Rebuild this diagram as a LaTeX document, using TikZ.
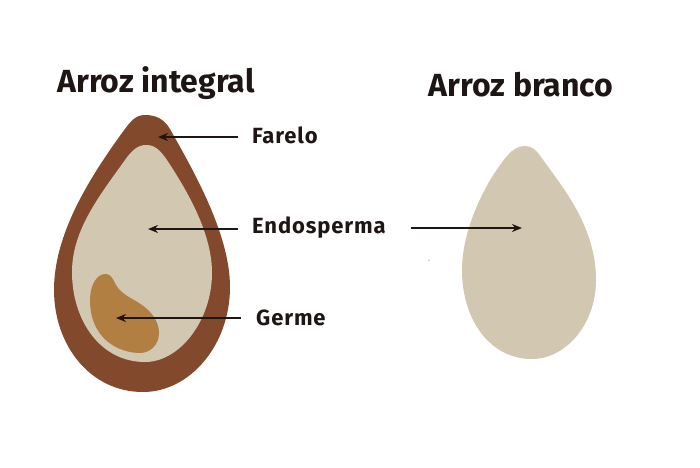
\documentclass[tikz,border=0pt]{standalone}
\usepackage{fontspec}
\setmainfont{Fira Sans}
\newfontfamily\labelfont[LetterSpace=4]{Fira Sans}
\usetikzlibrary{arrows.meta}
\definecolor{bran}{HTML}{83492C}
\definecolor{endo}{HTML}{D2C7B0}
\definecolor{germ}{HTML}{B27F43}
\definecolor{ink}{HTML}{1E1614}
\tikzset{
  heading/.style={font=\bfseries\fontsize{32pt}{36pt}\selectfont, text=ink, inner sep=0pt},
  partlabel/.style={font=\labelfont\bfseries\fontsize{22pt}{25pt}\selectfont, text=ink, inner sep=0pt},
  pointer/.style={draw=ink, line width=1.7pt, -{Stealth[length=10pt,width=8pt]}}
}
\begin{document}
\begin{tikzpicture}[x=1pt,y=-1pt]
\useasboundingbox (0,0) rectangle (700,467);
\fill[white] (0,0) rectangle (700,467);

% Brown rice: bran, endosperm and germ
\fill[bran] (145,115) .. controls (156,115) and (164,119) .. (170,129)
  .. controls (190,165) and (230,232) .. (230,287)
  .. controls (230,345) and (190,392) .. (143,392)
  .. controls (90,392) and (54,345) .. (54,290)
  .. controls (54,235) and (88,180) .. (122,133)
  .. controls (130,122) and (135,115) .. (145,115) -- cycle;
\fill[endo] (146,145) .. controls (155,145) and (160,150) .. (167,160)
  .. controls (190,195) and (212,235) .. (212,273)
  .. controls (212,320) and (180,362) .. (145,362)
  .. controls (100,362) and (72,320) .. (72,272)
  .. controls (72,230) and (100,195) .. (125,160)
  .. controls (132,150) and (138,145) .. (146,145) -- cycle;
\fill[germ] (105,274) .. controls (112,274) and (113,280) .. (116,285)
  .. controls (122,295) and (132,298) .. (142,305)
  .. controls (152,312) and (159,322) .. (159,333)
  .. controls (159,345) and (150,353) .. (140,353)
  .. controls (120,353) and (90,340) .. (90,300)
  .. controls (90,285) and (97,274) .. (105,274) -- cycle;

% White rice grain
\fill[endo] (525,146) .. controls (532,146) and (536,150) .. (541,157)
  .. controls (560,184) and (596,225) .. (596,280)
  .. controls (596,325) and (565,359) .. (532,359)
  .. controls (490,359) and (462,320) .. (462,270)
  .. controls (462,225) and (490,175) .. (508,155)
  .. controls (513,149) and (519,146) .. (525,146) -- cycle;
\fill[ink] (429,260) circle (0.5pt);

% Titles
\node[heading] (brown) at (156,83) {Arroz integral};
\node[heading] (white) at (521,85) {Arroz branco};

% Part labels
\node[partlabel, anchor=west] (farelo) at (252,135.5) {Farelo};
\node[partlabel, anchor=west] (endosperma) at (252,228) {Endosperma};
\node[partlabel, anchor=west] (germe) at (256,318) {Germe};

% Pointer ends
\coordinate (farelotip) at (158,137);
\coordinate (endotip) at (148,229);
\coordinate (germtip) at (116,318);
\coordinate (whitestart) at (411,228);
\coordinate (whitetip) at (522,228);
\coordinate (fareloend) at (238,137);
\coordinate (endoend) at (238,229);
\coordinate (germend) at (241,318);

\draw[pointer] (fareloend) -- (farelotip);
\draw[pointer] (endoend) -- (endotip);
\draw[pointer] (germend) -- (germtip);
\draw[pointer] (whitestart) -- (whitetip);
\end{tikzpicture}
\end{document}
